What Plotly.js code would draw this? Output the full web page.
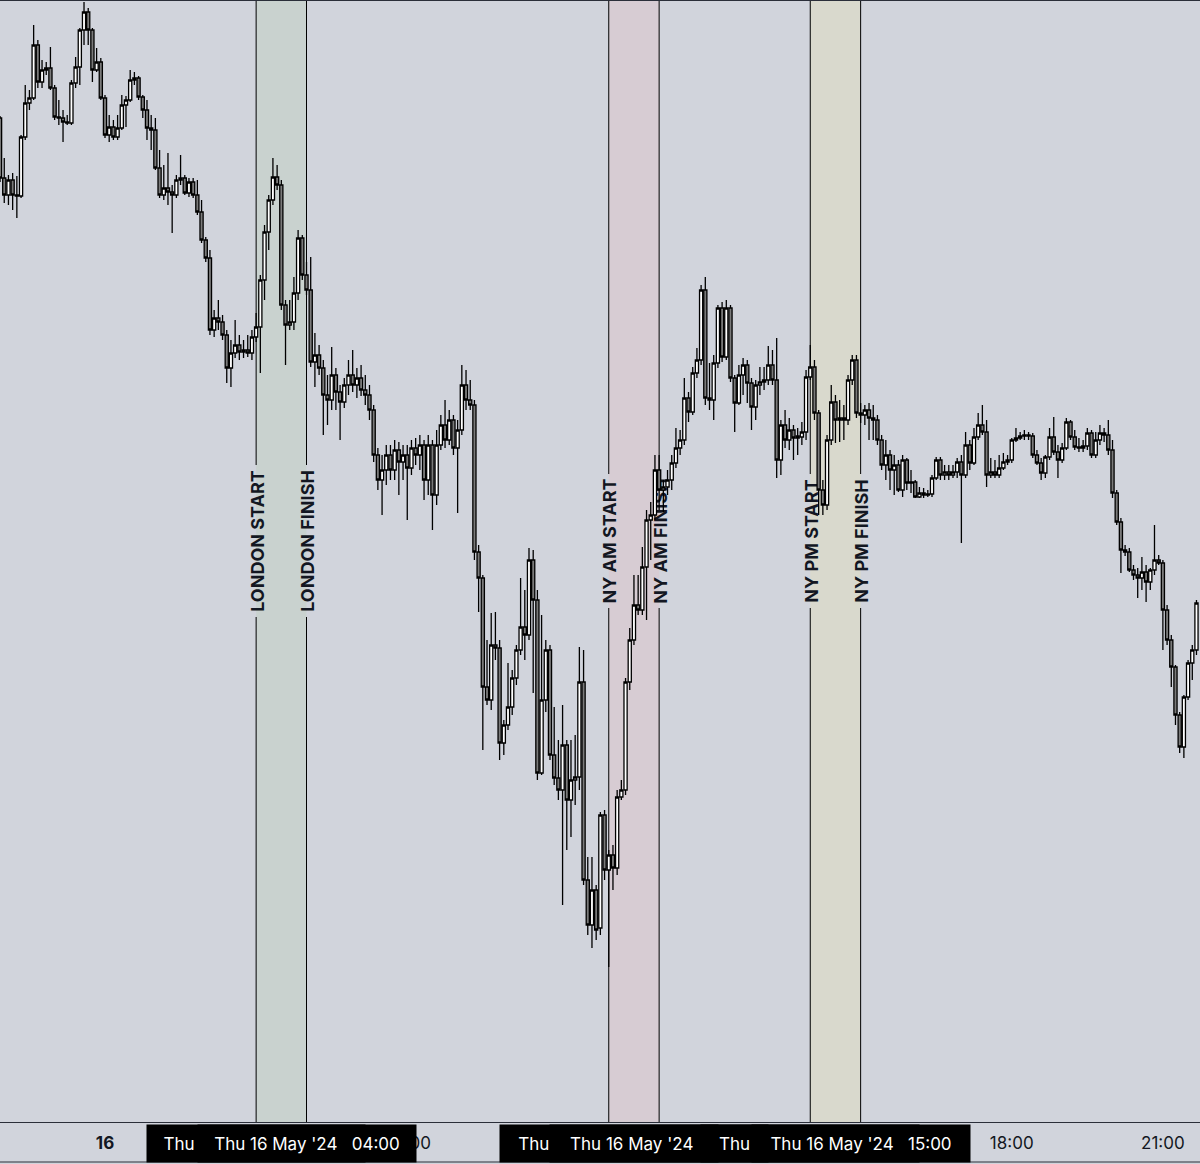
<!DOCTYPE html>
<html><head><meta charset="utf-8">
<script src="https://cdn.plot.ly/plotly-3.0.1.min.js"></script>
<style>html,body{margin:0;padding:0;background:#d1d4dc;}#chart{width:1200px;height:1164px;}</style>
</head><body><div id="chart"></div>
<script>
// 5-minute bars, Wed 15 May 2024 21:55 -> Thu 16 May 2024 21:40 (New York time)
const barStartUTC = Date.UTC(2024, 4, 15, 21, 55);
const barMinutes = 5;

const open = [
882,822,805,820,805,804,863,897,902,955, 918,930,932,912,883,882,878,877,917,933,
970,988,970,930,938,902,865,873,863,872, 895,900,920,922,903,890,872,870,832,805,
812,808,805,820,822,807,818,805,788,760, 742,670,682,678,665,632,647,655,648,650,
647,663,673,720,768,800,823,815,695,675, 678,707,762,725,710,638,645,632,605,600,
625,608,598,615,625,615,622,610,605,590, 545,520,530,545,530,550,538,545,532,552,
545,555,520,555,505,555,575,560,580,552, 570,615,600,595,448,422,313,300,355,352,
257,275,293,322,350,373,365,440,400,227, 300,350,245,222,210,255,200,220,223,318,
120,75,110,72,185,130,145,132,203,210, 318,360,395,390,433,480,485,530,510,513,
520,537,552,560,602,588,627,640,710,602, 600,637,692,643,692,622,597,625,635,617,
593,615,618,620,635,620,540,575,560,570, 562,563,568,623,633,587,510,495,560,598,
580,582,580,620,640,587,585,590,582,580, 560,535,545,530,535,510,540,517,518,503,
507,505,506,522,540,525,528,525,528,538, 525,555,537,563,575,568,525,528,525,532,
538,540,560,562,564,565,564,545,537,527, 543,563,548,540,552,578,563,553,552,554,
567,545,560,567,565,550,507,478,450,448, 430,425,422,428,418,430,440,437,390,360,
333,285,253,303,337,350];

const high = [
884,842,825,827,824,865,915,910,975,960, 940,938,953,915,900,890,885,920,943,972,
998,992,972,952,942,905,885,880,885,905, 904,930,928,924,905,900,885,882,850,835,
847,815,825,845,825,822,822,820,800,763, 750,690,700,685,670,660,680,665,660,665,
670,687,725,775,805,842,835,820,700,700, 723,770,765,738,743,667,655,640,625,653,
632,615,622,640,650,632,635,625,615,595, 552,545,555,555,560,558,555,555,560,562,
565,560,565,560,570,585,600,590,585,580, 635,630,620,600,455,425,360,387,388,360,
280,337,330,355,422,410,452,450,410,385, 360,355,293,260,295,260,260,265,353,350,
143,143,115,188,190,150,155,210,220,322, 372,425,425,453,490,498,545,545,520,530,
545,572,570,622,608,633,652,715,723,637, 645,695,698,700,695,625,635,642,640,622,
620,633,633,654,650,662,580,590,582,575, 572,578,630,655,640,590,520,565,615,605,
600,595,625,645,645,597,595,597,595,585, 565,560,550,545,540,545,542,530,520,513,
512,510,525,543,543,535,535,535,542,545, 568,560,572,587,595,580,542,540,545,547,
545,562,572,568,570,568,567,550,542,545, 572,583,555,557,582,580,570,562,560,572,
570,568,575,572,580,560,510,482,455,452, 435,432,443,435,432,475,445,440,395,365,
335,288,305,340,355,400];

const low = [
818,797,795,790,782,802,860,890,900,912, 912,925,910,880,875,858,875,875,912,915,
955,955,918,928,900,862,858,860,860,870, 873,898,915,900,882,860,850,830,802,800,
795,767,802,815,805,803,802,785,757,738, 665,663,670,660,617,613,642,640,642,643,
640,658,627,700,750,795,810,690,635,670, 670,700,720,705,633,613,625,565,575,590,
590,560,592,605,608,602,604,595,580,538, 510,485,515,520,520,505,520,480,525,535,
530,500,505,470,495,550,552,555,545,487, 565,590,590,440,388,250,295,290,340,240,
245,270,285,315,345,340,360,307,220,225, 288,240,215,200,95,150,163,195,210,115,
65,52,60,65,120,33,110,125,200,205, 310,355,385,385,380,440,480,490,488,505,
510,532,545,555,578,585,622,635,595,590, 580,632,638,640,618,568,595,605,597,570,
580,605,610,615,615,522,525,552,550,540, 545,555,560,620,580,485,485,490,555,557,
558,560,575,615,582,577,575,560,560,555, 530,520,510,505,508,503,510,507,502,502,
502,503,503,520,520,520,520,522,522,457, 522,530,535,560,565,513,522,522,522,530,
535,537,558,560,560,560,542,535,520,522, 540,545,522,537,550,560,550,548,548,550,
542,542,555,558,545,502,475,427,444,428, 420,402,410,398,410,425,435,350,355,313,
275,247,242,300,320,345];

const close = [
822,805,820,805,804,863,897,902,955,918, 930,932,912,883,882,878,877,917,933,970,
988,970,930,938,902,865,873,863,872,895, 900,920,922,903,890,872,870,832,805,812,
808,805,820,822,807,818,805,788,760,742, 670,682,678,665,632,647,655,648,650,647,
663,673,720,768,800,823,815,695,675,678, 707,762,725,710,638,645,632,605,600,625,
608,598,615,625,615,622,610,605,590,545, 520,530,545,530,550,538,545,532,552,545,
555,520,555,505,555,575,560,580,552,570, 615,600,595,448,422,313,300,355,352,257,
275,293,322,350,373,365,440,400,227,300, 350,245,222,210,255,200,220,223,318,120,
75,110,70,185,130,145,132,203,210,318, 360,395,390,433,480,485,530,510,513,520,
537,552,560,602,588,627,640,710,602,600, 637,692,643,692,622,597,625,635,617,593,
615,618,620,635,620,540,575,560,570,562, 564,568,623,633,587,510,495,560,598,580,
582,580,620,640,587,585,590,582,580,560, 535,545,530,535,510,540,517,518,503,507,
505,506,522,540,525,528,525,528,538,525, 555,537,563,575,568,525,528,525,532,538,
540,560,562,564,565,564,545,537,527,543, 563,548,540,552,578,563,553,552,554,567,
545,560,567,565,550,507,478,450,448,430, 425,422,428,418,430,440,437,390,360,333,
285,253,303,337,350,397];

// Session windows
const sessionNames  = ['LONDON', 'NY AM', 'NY PM'];
const sessionStart  = ['2024-05-16 03:00', '2024-05-16 10:00', '2024-05-16 14:00'];
const sessionEnd    = ['2024-05-16 04:00', '2024-05-16 11:00', '2024-05-16 15:00'];
const sessionColors = ['#c9d2cf', '#d7ccd3', '#d9d9cd'];

// Time axis ticks
const tickVals = ['2024-05-16 00:00','2024-05-16 03:00','2024-05-16 06:00','2024-05-16 09:00',
                  '2024-05-16 12:00','2024-05-16 15:00','2024-05-16 18:00','2024-05-16 21:00'];
const tickText = ['<b>16</b>','03:00','06:00','09:00','12:00','15:00','18:00','21:00'];

// Crosshair time labels at session lines
const markerTimes = ['03:00','04:00','10:00','11:00','14:00','15:00'];
const markerDate = "Thu 16 May '24";

// ---- build ----
function fmt(ms){ return new Date(ms).toISOString().slice(0,16).replace('T',' '); }
const x = open.map((_, i) => fmt(barStartUTC + i*barMinutes*60000));

const trace = {
  type: 'candlestick', x: x, open: open, high: high, low: low, close: close,
  increasing: {line: {color: '#000000', width: 1.3}, fillcolor: '#ffffff'},
  decreasing: {line: {color: '#000000', width: 1.3}, fillcolor: '#7a7a7a'},
  whiskerwidth: 0, hoverinfo: 'skip', showlegend: false
};

const plotH = 1121;           // plot area height in px
const labelCenterPx = 540;    // vertical centre of session labels (from top)
const gapHalfPx = [76, 67, 67];

const shapes = [];
const lineColor = '#000000';
sessionNames.forEach((name, k) => {
  shapes.push({type:'rect', xref:'x', yref:'paper', x0: sessionStart[k], x1: sessionEnd[k], y0:0, y1:1,
               fillcolor: sessionColors[k], line:{width:0}, layer:'below'});
  [[sessionStart[k], name + ' START'], [sessionEnd[k], name + ' FINISH']].forEach(([t, txt]) => {
    const yTop = 1 - (labelCenterPx - gapHalfPx[k]) / plotH;
    const yBot = 1 - (labelCenterPx + gapHalfPx[k]) / plotH;
    shapes.push({type:'line', xref:'x', yref:'paper', x0:t, x1:t, y0:yTop, y1:1, line:{color:lineColor, width:1}, layer:'below'});
    shapes.push({type:'line', xref:'x', yref:'paper', x0:t, x1:t, y0:0, y1:yBot, line:{color:lineColor, width:1}, layer:'below'});
    shapes.push({type:'line', xref:'x', yref:'paper', x0:t, x1:t, y0:yBot, y1:yTop,
                 line:{color:'rgba(0,0,0,0)', width:1}, layer:'below',
                 label:{text: '<b>' + txt + '</b>', textangle:-90, textposition:'middle', xanchor:'center', yanchor:'middle',
                        font:{family:'Inter, Noto Sans, sans-serif', size:18, color:'#131722'}}});
  });
});
// bottom border of the time scale
shapes.push({type:'line', xref:'paper', yref:'paper', x0:0, x1:1, y0:-40/plotH, y1:-40/plotH, line:{color:'#2a2e39', width:1}});

const NB = '\u00a0';
const annotations = markerTimes.map(t => ({
  xref:'x', yref:'paper', x:'2024-05-16 ' + t, y:0, yshift:-2, xanchor:'center', yanchor:'top',
  text: markerDate + NB+NB+NB + t, showarrow:false,
  font:{family:'Inter, Noto Sans, sans-serif', size:17, color:'#ffffff'},
  bgcolor:'#000000', width:204, height:23, borderpad:7, align:'center'
}));

const layout = {
  width:1200, height:1164,
  margin:{l:0, r:0, t:1, b:42},
  paper_bgcolor:'#d1d4dc', plot_bgcolor:'#d1d4dc',
  showlegend:false,
  boxgap:0.25, boxgroupgap:0,
  xaxis:{type:'date', range:['2024-05-15 21:54:56','2024-05-16 21:44:12'],
         rangeslider:{visible:false}, showgrid:false, zeroline:false,
         tickmode:'array', tickvals:tickVals, ticktext:tickText, ticks:'', ticklabelstandoff:6,
         tickfont:{family:'Inter, Noto Sans, sans-serif', size:17, color:'#131722'},
         showline:true, linecolor:'#2a2e39', linewidth:1, mirror:true, fixedrange:true},
  yaxis:{range:[-122, 999], showgrid:false, zeroline:false, showticklabels:false, showline:false, fixedrange:true},
  shapes: shapes,
  annotations: annotations
};

Plotly.newPlot('chart', [trace], layout, {displayModeBar:false, staticPlot:true});
</script></body></html>
